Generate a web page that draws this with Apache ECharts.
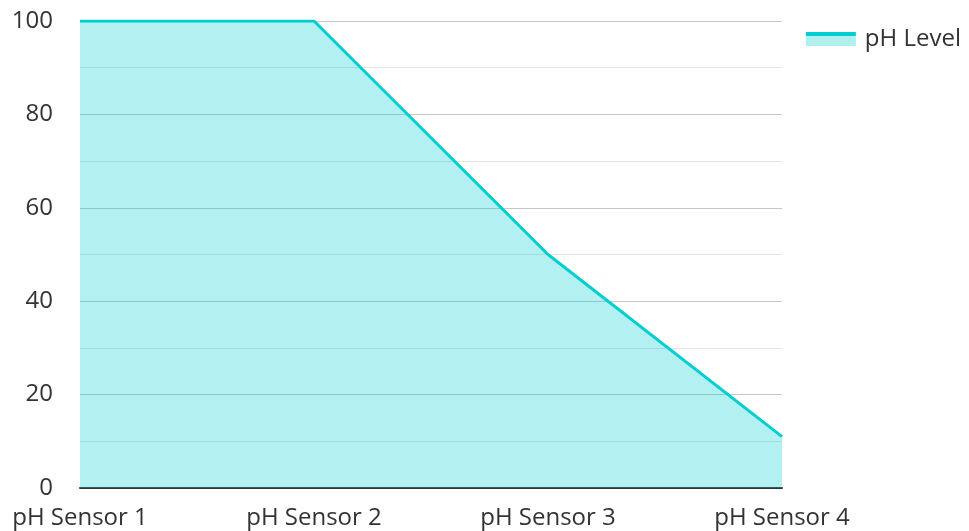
<!DOCTYPE html>
<html>
<head>
<meta charset="utf-8">
<script src="https://cdn.jsdelivr.net/npm/echarts@6/dist/echarts.min.js"></script>
<style>
  html, body { margin: 0; padding: 0; background: #fff; }
  #main { width: 969px; height: 531px; }
</style>
</head>
<body>
<div id="main"></div>
<script>
var categories = ['pH Sensor 1', 'pH Sensor 2', 'pH Sensor 3', 'pH Sensor 4'];
var phValues = [100, 100, 50, 11];
var seriesName = 'pH Level';

var dom = document.getElementById('main');
var myChart = echarts.init(dom);

var option = {
    textStyle: { fontFamily: 'Open Sans' },
    legend: {
        data: [seriesName],
        right: 3,
        top: 22,
        icon: 'rect',
        itemWidth: 50,
        itemHeight: 14,
        itemGap: 9,
        textStyle: { fontSize: 24, color: '#333', fontFamily: 'Open Sans', padding: [0, 0, 0, 4] },
        itemStyle: {
            color: new echarts.graphic.LinearGradient(0, 0, 0, 1, [
                { offset: 0, color: '#00CED1' },
                { offset: 0.28, color: '#00CED1' },
                { offset: 0.28, color: '#B2EFEF' },
                { offset: 1, color: '#B2EFEF' }
            ])
        }
    },
    grid: {
        left: 80,
        right: 187,
        top: 21,
        bottom: 43
    },
    xAxis: {
        type: 'category',
        data: categories,
        boundaryGap: false,
        axisLine: { lineStyle: { color: '#333', width: 2 } },
        axisTick: { show: false },
        axisLabel: { fontSize: 24, color: '#333', margin: 18 },
        splitLine: { show: false }
    },
    yAxis: {
        type: 'value',
        min: 0,
        max: 100,
        interval: 20,
        axisLine: { show: false },
        axisTick: { show: false },
        axisLabel: { fontSize: 24, color: '#333', margin: 27 },
        splitLine: { lineStyle: { color: '#c8c8c8', width: 1 } },
        minorTick: { show: false, splitNumber: 2 },
        minorSplitLine: { show: true, lineStyle: { color: '#e4e4e4', width: 1 } }
    },
    series: [{
        name: seriesName,
        type: 'line',
        data: phValues,
        symbol: 'none',
        lineStyle: { color: '#00CED1', width: 3 },
        itemStyle: { color: '#00CED1' },
        areaStyle: { color: '#00CED1', opacity: 0.3 },
        animation: false
    }]
};

if (option && typeof option === 'object') {
    myChart.setOption(option, true);
}
</script>
</body>
</html>
